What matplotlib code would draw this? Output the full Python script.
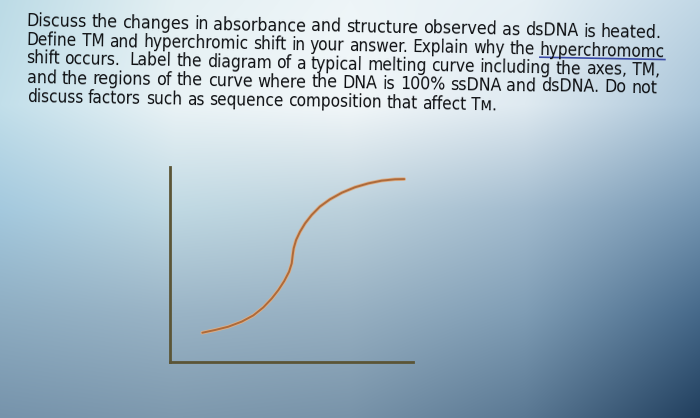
import math
import numpy as np
import matplotlib
matplotlib.use("Agg")
import matplotlib.pyplot as plt
from matplotlib import font_manager
from matplotlib.lines import Line2D
import matplotlib.colors as mcolors

# ---------------- data ----------------
# melting curve: temperature (% of axis) vs relative absorbance
temperature = [13.3, 18.5, 24.0, 29.5, 34.3, 38.4, 41.9, 44.6, 47.0, 49.0,
               50.1, 50.5, 50.9, 51.9, 53.5, 55.6, 58.3, 61.7, 65.8, 70.7,
               76.1, 81.6, 87.1, 92.6, 96.4]
absorbance = [0.150, 0.164, 0.181, 0.207, 0.239, 0.280, 0.326, 0.369, 0.415,
              0.463, 0.506, 0.549, 0.583, 0.626, 0.668, 0.711, 0.754, 0.797,
              0.834, 0.868, 0.896, 0.916, 0.930, 0.937, 0.938]

question_lines = [
    "Discuss the changes in absorbance and structure observed as dsDNA is heated.",
    "Define TM and hyperchromic shift in your answer. Explain why the hyperchromomc",
    "shift occurs.  Label the diagram of a typical melting curve including the axes, TM,",
    "and the regions of the curve where the DNA is 100% ssDNA and dsDNA. Do not",
    "discuss factors such as sequence composition that affect T\u1d0d.",
]
underlined_word = "hyperchromomc"

# ---------------- layout ----------------
W, H = 700, 418
DPI = 100
fig = plt.figure(figsize=(W / DPI, H / DPI), dpi=DPI)

# background (photo-like gradient)
bg = fig.add_axes([0, 0, 1, 1])
bg.set_axis_off()
grid_hex = [
    ["#bcdbe6", "#e4f0f3", "#eef5f8", "#e6f0f5", "#c2d8e6"],
    ["#c2dfea", "#eaf3f6", "#f2f7f9", "#dfeaf1", "#a9c4d8"],
    ["#a4c9de", "#c0d9e3", "#bcd1dc", "#a3bccf", "#7596b2"],
    ["#8eadc2", "#9ab4c6", "#97b0c2", "#7f9db5", "#46698a"],
    ["#7693ab", "#7e99ae", "#7893a9", "#5a7893", "#213f5e"],
]
g = np.array([[mcolors.to_rgb(c) for c in row] for row in grid_hex])
ny, nx = g.shape[:2]
yy = np.linspace(0, ny - 1, H)
xx = np.linspace(0, nx - 1, W)
y0 = np.clip(np.floor(yy).astype(int), 0, ny - 2)
x0 = np.clip(np.floor(xx).astype(int), 0, nx - 2)
fy = (yy - y0)[:, None, None]
fx = (xx - x0)[None, :, None]
c00 = g[y0][:, x0]
c01 = g[y0][:, x0 + 1]
c10 = g[y0 + 1][:, x0]
c11 = g[y0 + 1][:, x0 + 1]
img = (c00 * (1 - fx) * (1 - fy) + c01 * fx * (1 - fy)
       + c10 * (1 - fx) * fy + c11 * fx * fy)
bg.imshow(img, extent=(0, W, H, 0), aspect="auto", interpolation="bilinear")
bg.set_xlim(0, W)
bg.set_ylim(H, 0)

# font choice: narrow font if available
names = {f.name for f in font_manager.fontManager.ttflist}
stretch = "normal"
if "Liberation Sans Narrow" in names:
    fam = ["Liberation Sans Narrow", "DejaVu Sans"]
else:
    fam = ["DejaVu Sans"]
    if any(f.name == "DejaVu Sans" and "Condensed" in f.fname
           for f in font_manager.fontManager.ttflist):
        stretch = "condensed"

# text lines: (left x, left baseline y, right x, right baseline y) in pixels
line_pos = [
    (26, 26, 662, 38),
    (27, 45, 662, 57),
    (26, 63, 660, 76),
    (27, 83, 659, 93),
    (27, 102, 497, 110),
]

renderer = fig.canvas.get_renderer()


def text_width(s, fs):
    if not s:
        return 0.0
    t = bg.text(0, 0, s + "I", family=fam, fontstretch=stretch, fontsize=fs)
    w1 = t.get_window_extent(renderer).width
    t.set_text("I")
    w2 = t.get_window_extent(renderer).width
    t.remove()
    return w1 - w2


TEXT_COLOR = "#0e1013"
for txt, (xl, yl, xr, yr) in zip(question_lines, line_pos):
    target = math.hypot(xr - xl, yr - yl)
    ang = -math.degrees(math.atan2(yr - yl, xr - xl))
    dx, dy = (xr - xl) / target, (yr - yl) / target
    fs = 12 * target / text_width(txt, 12)
    # place word by word along the (slightly tilted) baseline
    i = 0
    n = len(txt)
    while i < n:
        if txt[i] == " ":
            i += 1
            continue
        j = txt.find(" ", i)
        if j < 0:
            j = n
        word = txt[i:j]
        off = text_width(txt[:i], fs)
        bg.text(xl + dx * off, yl + dy * off, word, family=fam,
                fontstretch=stretch, fontsize=fs, color=TEXT_COLOR,
                ha="left", va="baseline", rotation=ang,
                rotation_mode="anchor")
        if word == underlined_word:
            end = off + text_width(word, fs)
            bg.add_line(Line2D([xl + dx * off, xl + dx * end],
                               [yl + dy * off + 2.5, yl + dy * end + 2.5],
                               color="#3a4aa8", lw=1.2))
        i = j

# ---------------- melting curve ----------------
ax = fig.add_axes([170 / W, 1 - 362 / H, (413 - 170) / W, (362 - 167) / H])
ax.patch.set_alpha(0)
ax.set_xlim(0, 100)
ax.set_ylim(0, 1)
for s in ("top", "right"):
    ax.spines[s].set_visible(False)
for s in ("left", "bottom"):
    ax.spines[s].set_color("#5b5536")
    ax.spines[s].set_linewidth(2.0)
ax.set_xticks([])
ax.set_yticks([])
ax.plot(temperature, absorbance, color="#ddb08a", lw=2.6,
        solid_capstyle="round", solid_joinstyle="round")
ax.plot(temperature, absorbance, color="#ad6a3a", lw=1.4,
        solid_capstyle="round", solid_joinstyle="round")

fig.savefig("out.png", dpi=DPI)
